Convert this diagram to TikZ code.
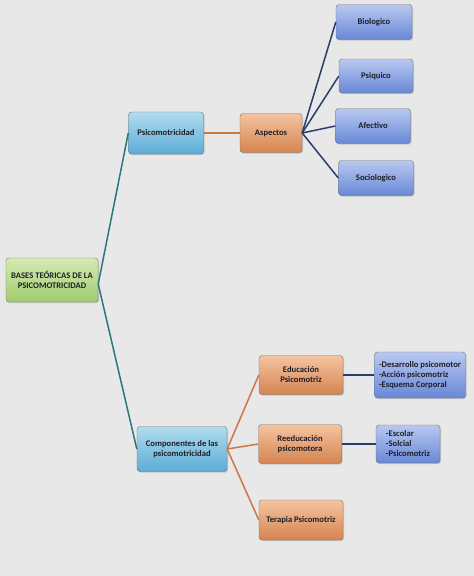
\documentclass[tikz,border=0pt]{standalone}
\usepackage{fontspec}
\setmainfont{Carlito}
\usepackage{tikz}
\usetikzlibrary{positioning,shadows}
\definecolor{bgc}{RGB}{232,232,232}
\definecolor{rootTop}{RGB}{214,234,178}
\definecolor{rootBot}{RGB}{160,204,110}
\definecolor{cyanTop}{RGB}{176,220,238}
\definecolor{cyanBot}{RGB}{92,172,214}
\definecolor{orTop}{RGB}{244,196,160}
\definecolor{orBot}{RGB}{214,132,80}
\definecolor{blTop}{RGB}{184,200,240}
\definecolor{blBot}{RGB}{104,136,214}
\definecolor{tealline}{RGB}{40,120,126}
\definecolor{orline}{RGB}{204,120,64}
\definecolor{navyline}{RGB}{40,62,104}
\definecolor{txtc}{RGB}{30,30,40}
\tikzset{
  box/.style={rectangle, rounded corners=3pt, draw=black!55, thin,
              font=\fontsize{8.6}{10}\selectfont\bfseries, text=txtc,
              align=center, inner sep=2pt,
              drop shadow={shadow xshift=1pt, shadow yshift=-1.2pt, opacity=0.35}},
  rootbox/.style={box, top color=rootTop, bottom color=rootBot},
  cyanbox/.style={box, top color=cyanTop, bottom color=cyanBot},
  orbox/.style={box, top color=orTop, bottom color=orBot},
  blbox/.style={box, top color=blTop, bottom color=blBot},
  listbox/.style={blbox, align=left},
  tline/.style={tealline, line width=1.5pt},
  oline/.style={orline, line width=1.5pt},
  nline/.style={navyline, line width=1.5pt}
}
\begin{document}
\begin{tikzpicture}[x=1pt,y=-1pt]
\fill[bgc] (0,0) rectangle (474,576);
\useasboundingbox (0,0) rectangle (474,576);
% raiz y primer nivel
\node[rootbox, minimum width=92pt, minimum height=44pt] (root) at (52,280) {BASES TEÓRICAS DE LA\\PSICOMOTRICIDAD};
\node[cyanbox, minimum width=75pt, minimum height=42pt] (psico) at (166,133) {Psicomotricidad};
\node[cyanbox, minimum width=90pt, minimum height=45pt] (comp) at (182,449) {Componentes de las\\psicomotricidad};
% aspectos
\node[orbox, minimum width=62pt, minimum height=39pt] (asp) at (271,133) {Aspectos};
\node[blbox, minimum width=76pt, minimum height=35pt] (bio) at (374,22) {Biologico};
\node[blbox, minimum width=74pt, minimum height=34pt] (psiq) at (376,76) {Psiquico};
\node[blbox, minimum width=75pt, minimum height=35pt] (afec) at (373,126) {Afectivo};
\node[blbox, minimum width=75pt, minimum height=35pt] (soc) at (376,178) {Sociologico};
% componentes
\node[orbox, minimum width=84pt, minimum height=39pt] (edu) at (301,375) {Educación\\Psicomotriz};
\node[orbox, minimum width=83pt, minimum height=39pt] (reedu) at (300,444) {Reeducación\\psicomotora};
\node[orbox, minimum width=84pt, minimum height=40pt] (tera) at (301,520) {Terapia Psicomotriz};
\node[listbox, minimum width=91pt, minimum height=46pt] (l1) at (420,375) {-Desarrollo psicomotor\\-Acción psicomotriz\\-Esquema Corporal};
\node[listbox, minimum width=64pt, minimum height=38pt] (l2) at (408,444) {-Escolar\\-Solcial\\-Psicomotriz};
% conectores
\draw[tline] ([yshift=-4pt]root.east) -- (psico.west);
\draw[tline] ([yshift=-4pt]root.east) -- (comp.west);
\draw[oline] (psico.east) -- (asp.west);
\foreach \t in {bio,psiq,afec,soc}
  \draw[nline] (asp.east) -- (\t.west);
\foreach \t in {edu,reedu,tera}
  \draw[oline] (comp.east) -- (\t.west);
\draw[nline] (edu.east) -- (l1.west);
\draw[nline] (reedu.east) -- (l2.west);
\end{tikzpicture}
\end{document}
